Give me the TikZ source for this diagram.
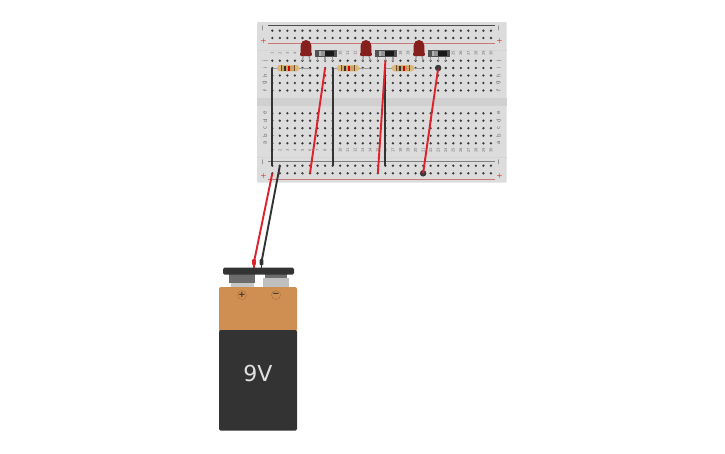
\documentclass[tikz,border=0pt]{standalone}
\usepackage{fontspec}
\setmainfont{DejaVu Sans}
\definecolor{board}{HTML}{DCDCDC}
\definecolor{groove}{HTML}{D0D0D0}
\definecolor{hole}{HTML}{3A3A3A}
\definecolor{railred}{HTML}{C87878}
\definecolor{railblk}{HTML}{808080}
\definecolor{signred}{HTML}{D84040}
\definecolor{wred}{HTML}{E0202A}
\definecolor{wblk}{HTML}{333333}
\definecolor{led}{HTML}{85201F}
\definecolor{orangeb}{HTML}{D08F52}
\definecolor{darkb}{HTML}{333333}
\definecolor{legc}{HTML}{9A9A9A}
\definecolor{lab}{HTML}{707070}
\definecolor{resbody}{HTML}{DDB878}
\tikzset{
  wirered/.style={draw=wred,line width=1.9pt},
  wireblk/.style={draw=wblk,line width=1.9pt},
  tiny lab/.style={font=\fontsize{3.8}{4}\selectfont,text=lab,inner sep=0pt,rotate=90},
  rail sign/.style={font=\fontsize{7.5}{8}\selectfont,inner sep=0pt},
  ball/.style={circle,fill=hole,draw=none,minimum size=6.5pt,inner sep=0pt},
  leg/.style={draw=legc,line width=1.2pt},
  pinst/.style={draw=legc,line width=1.2pt},
}
\begin{document}
\begin{tikzpicture}[x=1pt,y=-1pt]
\useasboundingbox (0,0) rectangle (725,453);
\fill[white] (0,0) rectangle (725,453);
% board
\fill[board,rounded corners=1pt] (257,22) rectangle (506.5,182.5);
\fill[groove] (257,98) rectangle (506.5,106);
\fill[groove!60!board] (257,49.5) rectangle (506.5,50.5);
\fill[groove!60!board] (257,156.5) rectangle (506.5,157.5);
% rails
\draw[black!70,line width=.9pt] (268,25.3) -- (495,25.3);
\draw[railred,line width=1pt] (268,43) -- (495,43);
\draw[railblk,line width=1pt] (268,161) -- (495,161);
\draw[railred,line width=1pt] (268,179) -- (495,179);
\node[rail sign,text=lab] at (263.5,28) {\rotatebox{90}{−}};
\node[rail sign,text=signred] at (263.5,41.5) {+};
\node[rail sign,text=lab] at (499.5,28) {\rotatebox{90}{−}};
\node[rail sign,text=signred] at (499.5,41.5) {+};
\node[rail sign,text=lab] at (263.5,162.5) {\rotatebox{90}{−}};
\node[rail sign,text=signred] at (263.5,176) {+};
\node[rail sign,text=lab] at (499.5,162.5) {\rotatebox{90}{−}};
\node[rail sign,text=signred] at (499.5,176) {+};
% holes
\foreach \r/\y in {1/30.7,2/38,3/60.7,4/68,5/75.5,6/83,7/90.5,8/113.3,9/120.7,10/128.2,11/135.7,12/143.3,13/165.7,14/173.3}{
  \foreach \c in {1,...,30}{
    \coordinate (h-\c-\r) at ({272.3+(\c-1)*7.54},\y);
    \fill[hole] (h-\c-\r) circle (1.3pt);
  }
}
% labels
\foreach \c in {1,...,30}{
  \node[tiny lab] at ({272.3+(\c-1)*7.54},53.5) {\c};
  \node[tiny lab] at ({272.3+(\c-1)*7.54},150.5) {\c};
}
\foreach \y/\t in {60.7/j,68/i,75.5/h,83/g,90.5/f,113.3/e,120.7/d,128.2/c,135.7/b,143.3/a}{
  \node[tiny lab,font=\fontsize{5.5}{5}\selectfont] at (265,\y) {\t};
  \node[tiny lab,font=\fontsize{5.5}{5}\selectfont] at (498.5,\y) {\t};
}
% LEDs
\foreach \n/\a/\b/\x in {l1/5/6/306,l2/13/14/366,l3/20/21/419}{
  \draw[leg] (\x-2.5,54) -- (h-\a-3);
  \draw[leg] (\x+2.5,54) -- (h-\b-3);
  \fill[led] (\x-5.3,54.5) -- (\x-5.3,45.3) arc[start angle=180,end angle=360,radius=5.3] -- (\x+5.3,54.5) -- cycle;
  \fill[led,rounded corners=1pt] (\x-5.8,52.5) rectangle (\x+5.8,56);
  \node[inner sep=0pt,minimum size=0pt] (\n) at (\x,48) {};
}
% switches
\foreach \n/\x/\a in {s1/315/7,s2/375/15,s3/428/22}{
  \foreach \d in {0,1,2}{
    \pgfmathtruncatemacro{\k}{\a+\d}
    \draw[pinst] (h-\k-3) ++(0,-4) -- (h-\k-3);
  }
  \fill[darkb!85!white] (\x,49.5) rectangle (\x+21.5,57);
  \fill[black!90] (\x+9,51) rectangle (\x+19,55.5);
  \fill[gray!85] (\x+3.5,51) rectangle (\x+10,55.5);
  \fill[gray!60] (\x+3.5,51) rectangle (\x+6,55.5);
  \node[inner sep=0pt,minimum size=0pt] (\n) at (\x+10,53) {};
}
% resistors
\foreach \n/\x/\a/\b in {r1/277/1/6,r2/337/9/14,r3/392/16/21}{
  \draw[legc,line width=1pt] (h-\a-4) -- (h-\b-4);
  \fill[resbody,rounded corners=2.5pt] (\x,65) rectangle (\x+22,71.3);
  \fill[resbody!90!black] (\x+5,65.6) rectangle (\x+17,70.7);
  \fill[orangeb!55!black] (\x+3.5,65) rectangle (\x+4.8,71.3);
  \fill[darkb] (\x+6.5,65.6) rectangle (\x+8.5,70.7);
  \fill[red!85!black] (\x+10.5,65.6) rectangle (\x+12.8,70.7);
  \fill[orangeb!55!black] (\x+17.2,65) rectangle (\x+18,71.3);
  \node[inner sep=0pt,minimum size=0pt] (\n) at (\x+11,68) {};
}
% board wires
\draw[wireblk] (h-1-4) -- (h-1-13);
\draw[wireblk] (h-9-4) -- (h-9-13);
\draw[wireblk] (h-16-4) -- (h-16-13);
\draw[wirered] (h-8-4) -- (h-6-14);
\draw[wirered] (h-16-3) -- (h-15-14);
\node[ball] (b1) at (h-23-4) {};
\node[ball] (b2) at (h-21-14) {};
\draw[wirered] (b1.center) -- (b2.center);
\fill[hole,opacity=.7] (b1) circle (2.2pt);
% battery wires
\coordinate (bp) at (254,262);
\coordinate (bn) at (261.5,262);
\draw[wirered] (h-1-14) -- (bp);
\draw[wireblk] (h-2-13) -- (bn);
\fill[wred,rounded corners=.8pt] (bp) ++(-1.8,-3) rectangle ++(3.6,6);
\fill[wblk,rounded corners=.8pt] (bn) ++(-1.8,-3) rectangle ++(3.6,6);
\draw[wred,line width=1.2pt] (bp) -- (254,268);
\draw[wblk,line width=1.2pt] (bn) -- (261.5,268);
% battery
\fill[gray!85!black] (229,274) rectangle (255,282.5);
\fill[gray!45] (231,282.5) rectangle (253.5,288);
\fill[gray!85!black] (265,274) rectangle (287,277.5);
\fill[gray!50] (263,277.5) rectangle (289,288);
\fill[darkb,rounded corners=1.5pt] (223,267.5) rectangle (294,274.5);
\fill[orangeb,rounded corners=2pt] (219,287) rectangle (297,332);
\fill[darkb,rounded corners=1.5pt] (219,330) rectangle (297,430.5);
\fill[orangeb] (219,292) rectangle (297,330);
\node[circle,draw=orangeb!80!black,line width=.4pt,minimum size=9pt,inner sep=0pt,font=\bfseries\fontsize{8.5}{8}\selectfont,text=darkb] (plus) at (242,295) {+};
\node[circle,draw=orangeb!80!black,line width=.4pt,minimum size=9pt,inner sep=0pt,font=\bfseries\fontsize{8.5}{8}\selectfont,text=darkb] (minus) at (276,295) {−};
\node[font=\fontsize{22}{22}\selectfont,text=black!12,inner sep=0pt] (volt) at (258,373) {9V};
\end{tikzpicture}
\end{document}
